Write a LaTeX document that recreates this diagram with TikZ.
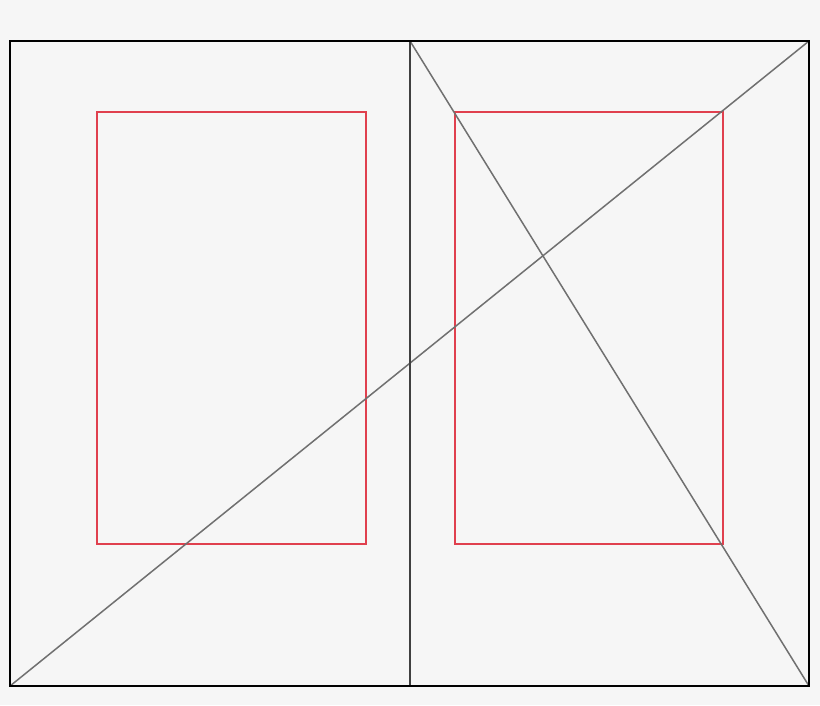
\documentclass[tikz,border=0pt]{standalone}
\usepackage{tikz}
\usepackage{xcolor}
\definecolor{pagebg}{HTML}{F6F6F6}
\definecolor{marge}{HTML}{E0404E}
\definecolor{diag}{HTML}{707070}
\tikzset{
Cadre/.style={
 draw=black,
 line width=1.5pt
 },
Pli/.style={
 draw=black!75,
 line width=1.5pt
 },
Diag/.style={
 draw=diag,
 line width=1.5pt
 },
Zone/.style={
 draw=marge,
 line width=1.2pt
 }
}
\begin{document}
\begin{tikzpicture}[x=1pt,y=-1pt]
\fill[pagebg] (0,0) rectangle (820,705);
\useasboundingbox (0,0) rectangle (820,705);
% page corners
\coordinate (HG) at (10,41);
\coordinate (HM) at (410,41);
\coordinate (HD) at (809,41);
\coordinate (BG) at (10,686);
\coordinate (BM) at (410,686);
\coordinate (BD) at (809,686);
% text blocks
\draw[Zone] (97,112) rectangle (366,544);
\draw[Zone] (455,112) rectangle (723,544);
% diagonals
\draw[Diag] (BG) -- (HD);
\draw[Diag] (HM) -- (BD);
\draw[Pli] (HM) -- (BM);
\draw[Cadre] (HG) rectangle (BD);
\end{tikzpicture}
\end{document}
